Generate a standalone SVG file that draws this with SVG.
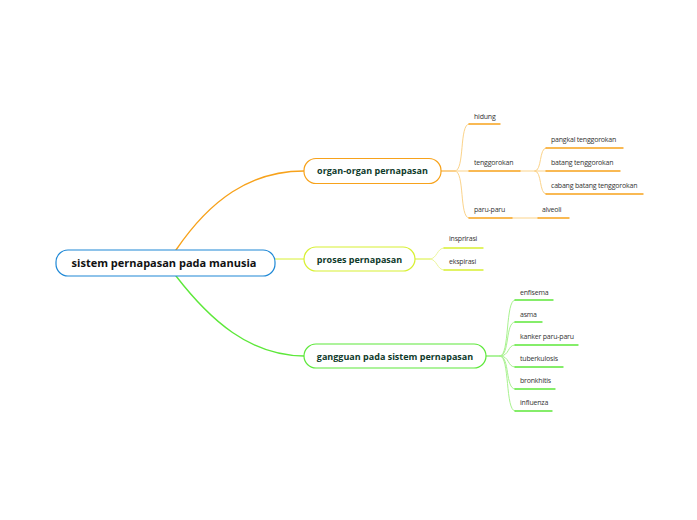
<svg xmlns="http://www.w3.org/2000/svg" width="697" height="520" viewBox="0 0 697 520">
<style>
.t{font-family:"Open Sans","Noto Sans",sans-serif;font-size:7px;fill:#333;letter-spacing:-0.2px}
.n{font-family:"Open Sans","Noto Sans",sans-serif;font-size:9px;font-weight:bold;fill:#0f3b2b;text-anchor:middle}
.r{font-family:"Open Sans","Noto Sans",sans-serif;font-size:11px;font-weight:bold;fill:#111;text-anchor:middle}
.c{fill:none;stroke-linecap:round}
.o{stroke:#f7a21b}
.ol{stroke:#fbd38a}
.y{stroke:#d8f032}
.yl{stroke:#ecf69a}
.g{stroke:#5de83a}
.gl{stroke:#a8f28f}
</style>
<rect width="697" height="520" fill="#fff"/>
<g id="connectors">
<path class="c o" stroke-width="1.4" d="M176,250 C210,200 250,171 304,171"/>
<path class="c y" stroke-width="1" d="M275,259 L304,259"/>
<path class="c g" stroke-width="1.4" d="M176,276 C210,320 250,356 304,356"/>
<path class="c o" stroke-width="1.2" d="M441,171 L455,171"/>
<path class="c ol" d="M455,171 C465,171 459,124 469,124"/>
<path class="c ol" d="M455,171 L469,171"/>
<path class="c ol" d="M455,171 C465,171 459,218 469,218"/>
<path class="c ol" d="M520,171 L535,171"/>
<path class="c ol" d="M535,171 C542,171 539,148 546,148"/>
<path class="c ol" d="M535,171 L546,171"/>
<path class="c ol" d="M535,171 C542,171 539,194 546,194"/>
<path class="c ol" d="M512,218 L538,218"/>
<path class="c y" stroke-width="1" d="M415,259 L430,259"/>
<path class="c yl" d="M430,259 C437,259 437,248 444,248"/>
<path class="c yl" d="M430,259 C437,259 437,270 444,270"/>
<path class="c g" stroke-width="1.2" d="M486,356 L500,356"/>
<path class="c gl" d="M500,356 C510,356 505,300 515,300"/>
<path class="c gl" d="M500,356 C510,356 505,322 515,322"/>
<path class="c gl" d="M500,356 C510,356 507,345 515,345"/>
<path class="c gl" d="M500,356 C510,356 507,367 515,367"/>
<path class="c gl" d="M500,356 C510,356 505,389 515,389"/>
<path class="c gl" d="M500,356 C510,356 505,411 515,411"/>
</g>
<g id="root">
<rect x="56" y="250" width="219" height="26" rx="12" fill="#fff" stroke="#1e88d6" stroke-width="1.2"/>
<text class="r" x="164" y="267">sistem pernapasan pada manusia</text>
</g>
<g id="organ">
<rect x="304" y="158.5" width="137" height="25" rx="12" fill="#fff" stroke="#f7a21b" stroke-width="1.2"/>
<text class="n" x="372.5" y="174">organ-organ pernapasan</text>
</g>
<g id="proses">
<rect x="304" y="247" width="111" height="24" rx="12" fill="#fff" stroke="#d8f032" stroke-width="1.2"/>
<text class="n" x="359.5" y="262.5">proses pernapasan</text>
</g>
<g id="gangguan">
<rect x="304" y="344" width="182" height="24" rx="12" fill="#fff" stroke="#5de83a" stroke-width="1.2"/>
<text class="n" x="395" y="359.5">gangguan pada sistem pernapasan</text>
</g>
<g id="hidung"><text class="t" x="474" y="119">hidung</text><path class="c o" stroke-width="1.4" d="M469,124 L500,124"/></g>
<g id="tenggorokan"><text class="t" x="474" y="165">tenggorokan</text><path class="c o" stroke-width="1.4" d="M469,171 L520,171"/></g>
<g id="paru-paru"><text class="t" x="474" y="212">paru-paru</text><path class="c o" stroke-width="1.4" d="M469,218 L512,218"/></g>
<g id="alveoli"><text class="t" x="542" y="212">alveoli</text><path class="c o" stroke-width="1.4" d="M538,218 L569,218"/></g>
<g id="pangkal"><text class="t" x="551" y="142">pangkal tenggorokan</text><path class="c o" stroke-width="1.4" d="M546,148 L623,148"/></g>
<g id="batang"><text class="t" x="551" y="165">batang tenggorokan</text><path class="c o" stroke-width="1.4" d="M546,171 L620,171"/></g>
<g id="cabang"><text class="t" x="551" y="188">cabang batang tenggorokan</text><path class="c o" stroke-width="1.4" d="M546,194 L643,194"/></g>
<g id="inspirasi"><text class="t" x="449" y="241">insprirasi</text><path class="c y" stroke-width="1.4" d="M444,248 L483,248"/></g>
<g id="ekspirasi"><text class="t" x="449" y="264">ekspirasi</text><path class="c y" stroke-width="1.4" d="M444,270 L483,270"/></g>
<g id="enfisema"><text class="t" x="520" y="295">enfisema</text><path class="c g" stroke-width="1.4" d="M515,300 L553,300"/></g>
<g id="asma"><text class="t" x="520" y="317">asma</text><path class="c g" stroke-width="1.4" d="M515,322 L542,322"/></g>
<g id="kanker"><text class="t" x="520" y="339">kanker paru-paru</text><path class="c g" stroke-width="1.4" d="M515,345 L578,345"/></g>
<g id="tuberkulosis"><text class="t" x="520" y="361">tuberkulosis</text><path class="c g" stroke-width="1.4" d="M515,367 L563,367"/></g>
<g id="bronkhitis"><text class="t" x="520" y="383">bronkhitis</text><path class="c g" stroke-width="1.4" d="M515,389 L555,389"/></g>
<g id="influenza"><text class="t" x="520" y="405">influenza</text><path class="c g" stroke-width="1.4" d="M515,411 L552,411"/></g>
</svg>
